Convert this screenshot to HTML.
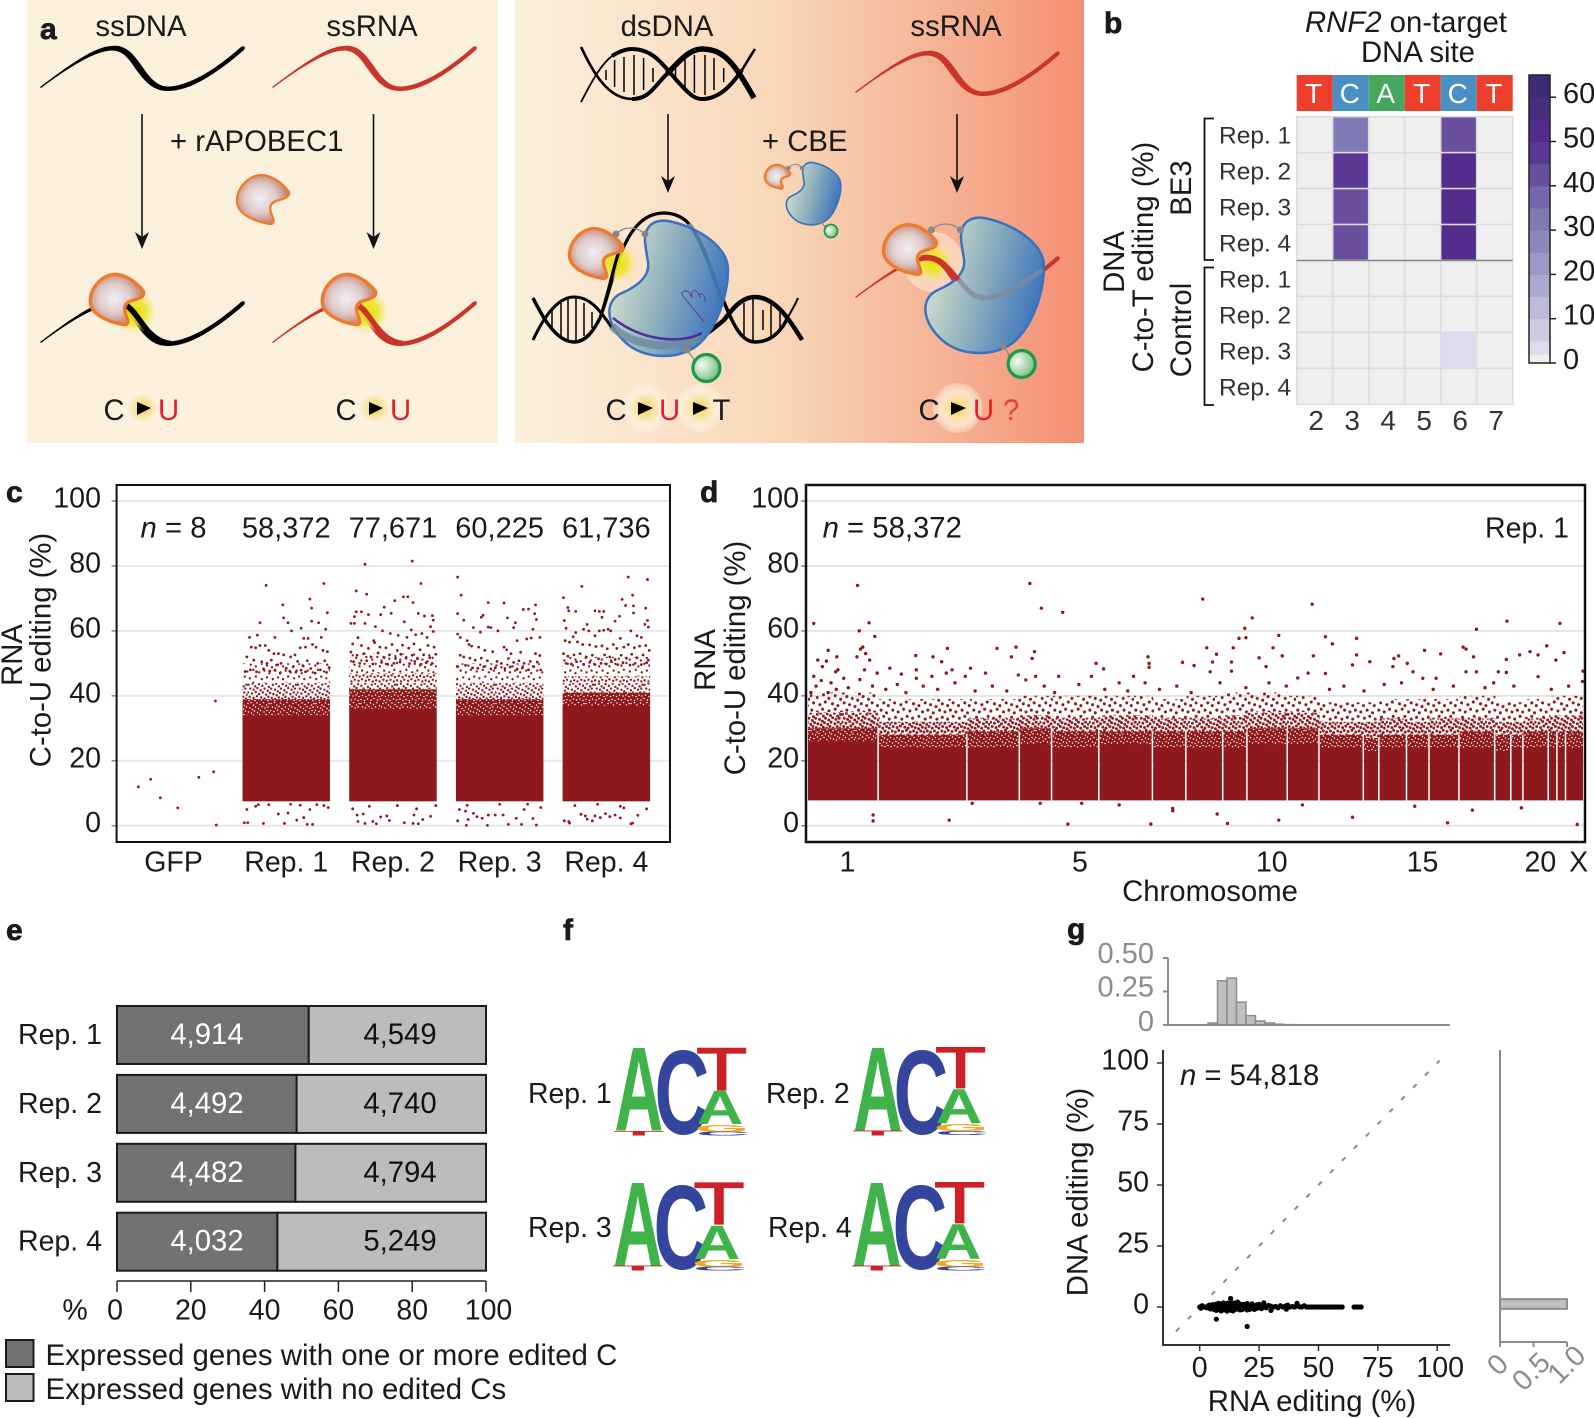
<!DOCTYPE html>
<html lang="en">
<head>
<meta charset="utf-8">
<title>Base editor off-target figure</title>
<style>
html,body{margin:0;padding:0;background:#fff;}
svg{display:block;}
text{font-family:"Liberation Sans",sans-serif;fill:#1a1a1a;}
.f28{font-size:29.3px;}
.f27{font-size:29.3px;}
.f24{font-size:24px;}
.lab{font-size:30px;font-weight:bold;stroke:#1f1f1f;stroke-width:.7px;}
.red{fill:#e2202c;}
.logo{font-size:100px;font-weight:bold;text-anchor:middle;}
.logoT{font-size:100px;font-weight:normal;text-anchor:middle;stroke:#cd2027;stroke-width:2px;}
.mid{text-anchor:middle;}
.end{text-anchor:end;}
</style>
</head>
<body>
<svg id="figure" xmlns="http://www.w3.org/2000/svg" width="1594" height="1418" viewBox="0 0 1594 1418">
<defs>
  <linearGradient id="bg-grad" x1="0" x2="1" y1="0" y2="0">
    <stop offset="0" stop-color="#fbf0dc"/><stop offset=".45" stop-color="#f9d8ba"/><stop offset=".8" stop-color="#f5ac8e"/><stop offset="1" stop-color="#f58e72"/>
  </linearGradient>
  <radialGradient id="enz-grad" cx=".45" cy=".48" r=".6">
    <stop offset="0" stop-color="#f0f0f4"/><stop offset=".5" stop-color="#dfcbc8"/><stop offset="1" stop-color="#ba6a58"/>
  </radialGradient>
  <linearGradient id="blue-grad" x1="0" x2="1" y1=".2" y2=".5">
    <stop offset="0" stop-color="#e0e8d2"/><stop offset=".5" stop-color="#8fb0bd"/><stop offset="1" stop-color="#3c74bd"/>
  </linearGradient>
  <radialGradient id="green-grad" cx=".35" cy=".4" r=".75">
    <stop offset="0" stop-color="#f4faf2"/><stop offset="1" stop-color="#63b86f"/>
  </radialGradient>
  <radialGradient id="yellow-glow">
    <stop offset="0" stop-color="#e8e000"/><stop offset=".55" stop-color="#eee430" stop-opacity=".85"/><stop offset="1" stop-color="#f5ea80" stop-opacity="0"/>
  </radialGradient>
  <radialGradient id="pale-glow">
    <stop offset="0" stop-color="#f5cf55"/><stop offset=".38" stop-color="#f8e2a0"/><stop offset=".7" stop-color="#fdf3df" stop-opacity=".75"/><stop offset="1" stop-color="#fdf3df" stop-opacity=".3"/>
  </radialGradient>
  <path id="wave" d="M40 87C68 66 95 46 112 46C128 44 136 58 146 72C155 84 162 87 170 86.500C190 85 215 70 241 47C244 45 246 47 244 50C216 74 190 91 168 91C153 91 145 82 135 68C127 56 122 51 112 50.500C94 51 68 68 41 88Z"/>
  <path id="enzyme" d="M27 -6C20 -16 8 -23 -1 -23C-15 -22 -25 -9 -25 3C-25 15 -10 23 8 26C14 26 11 20 9 15C7 8 9 5 14 3C20 1 28 0 27 -6Z"/>
  <path id="cas" d="M645 240C645 225 655 219 668 221C695 226 728 245 728 270C728 300 712 340 690 350C670 360 640 358 623 340C605 322 605 300 622 293C640 285 650 275 648 262C646 250 645 245 645 240Z"/>
  <path id="dot-tile" fill="none" stroke-linecap="round" d="M2 3h0M9 1h0M14 6h0M21 2h0M27 5h0M34 1h0M39 7h0M46 3h0M52 1h0M57 6h0M64 2h0M70 5h0M77 1h0M83 6h0M88 3h0M5 10h0M11 12h0M18 9h0M24 13h0M31 10h0M37 14h0M43 10h0M50 12h0M55 15h0M61 10h0M67 13h0M74 9h0M80 12h0M86 10h0M1 17h0M8 19h0M15 16h0M21 20h0M28 17h0M34 21h0M41 18h0M47 20h0M53 22h0M59 18h0M65 21h0M71 17h0M78 20h0M84 17h0M89 21h0M4 25h0M11 27h0M17 24h0M25 26h0M31 28h0M38 25h0M44 27h0M50 29h0M57 26h0M63 28h0M69 25h0M75 28h0M82 25h0M87 28h0M2 33h0M8 35h0M14 32h0M21 34h0M28 32h0M35 35h0M41 33h0M47 36h0M54 33h0M60 35h0M66 33h0M72 35h0M79 33h0M85 36h0M5 41h0M12 43h0M18 40h0M24 42h0M31 40h0M38 43h0M44 41h0M51 43h0M57 41h0M63 43h0M69 40h0M76 42h0M82 40h0M88 43h0M2 49h0M9 51h0M15 48h0M22 50h0M28 47h0M35 50h0M41 48h0M48 51h0M54 49h0M60 51h0M67 48h0M73 50h0M80 48h0M86 51h0"/>
  <pattern id="dense-c" patternUnits="userSpaceOnUse" width="90" height="54" patternTransform="scale(.55)">
    <use href="#dot-tile" stroke="#8e181b" stroke-width="4.400"/>
  </pattern>
  <pattern id="sparse-c" patternUnits="userSpaceOnUse" width="90" height="54" patternTransform="scale(.85)">
    <use href="#dot-tile" stroke="#8e181b" stroke-width="2.800"/>
  </pattern>
  <pattern id="specks" patternUnits="userSpaceOnUse" width="90" height="54" patternTransform="scale(.5)">
    <use href="#dot-tile" stroke="#fff" stroke-width="3"/>
  </pattern>
  <pattern id="dense-d" patternUnits="userSpaceOnUse" width="90" height="54" patternTransform="scale(.55)">
    <use href="#dot-tile" stroke="#8e181b" stroke-width="5.400"/>
  </pattern>
  <pattern id="sparse-d" patternUnits="userSpaceOnUse" width="90" height="54" patternTransform="scale(.9)">
    <use href="#dot-tile" stroke="#8e181b" stroke-width="3.400"/>
  </pattern>
</defs>

<!-- Panel a, left -->
<g>
  <rect x="27" y="0" width="471" height="443" fill="#fbf0dc"/>
  <text class="lab" x="40" y="39">a</text>
  <text class="f28 mid" x="141" y="36">ssDNA</text>
  <text class="f28 mid" x="372" y="36">ssRNA</text>
  <use href="#wave" fill="#000"/>
  <use href="#wave" fill="#c9352a" transform="translate(232,0)"/>
  <g><path d="M142 114V240" stroke="#111" stroke-width="1.600" fill="none"/><path d="M135 232L142 249L149 232L142 237Z" fill="#111"/></g>
  <g><path d="M373.500 114V240" stroke="#111" stroke-width="1.600" fill="none"/><path d="M366.500 232L373.500 249L380.500 232L373.500 237Z" fill="#111"/></g>
  <text class="f28" x="170" y="151">+ rAPOBEC1</text>
  <use href="#enzyme" transform="translate(262,198)" fill="url(#enz-grad)" stroke="#f07a28" stroke-width="2.300"/>
  <use href="#wave" fill="#000" transform="translate(0,255)"/>
  <use href="#wave" fill="#c9352a" transform="translate(232,255)"/>
  <circle cx="135" cy="312" r="22" fill="url(#yellow-glow)"/>
  <circle cx="367" cy="312" r="22" fill="url(#yellow-glow)"/>
  <path d="M127 306C135 311 141 324 150 333C157 340 164 343 171 343.500" stroke="#000" stroke-width="5.500" fill="none"/>
  <path d="M359 306C367 311 373 324 382 333C389 340 396 343 403 343.500" stroke="#c9352a" stroke-width="5.500" fill="none"/>
  <use href="#enzyme" transform="translate(116,298) scale(1.030)" fill="url(#enz-grad)" stroke="#f07a28" stroke-width="3.200"/>
  <use href="#enzyme" transform="translate(348,298) scale(1.030)" fill="url(#enz-grad)" stroke="#f07a28" stroke-width="3.200"/>
  <circle cx="143" cy="408" r="22" fill="url(#pale-glow)"/>
  <circle cx="375" cy="408" r="22" fill="url(#pale-glow)"/>
  <text class="f28" x="103.500" y="420">C</text>
  <polygon points="137,402 151,408 137,415" fill="#000"/>
  <text class="f28 red" x="158" y="420">U</text>
  <text class="f28" x="335.500" y="420">C</text>
  <polygon points="369,402 383,408 369,415" fill="#000"/>
  <text class="f28 red" x="390" y="420">U</text>
</g>

<!-- Panel a, right -->
<g>
  <rect x="515" y="0" width="569" height="443" fill="url(#bg-grad)"/>
  <text class="f28 mid" x="667" y="36">dsDNA</text>
  <text class="f28 mid" x="956" y="36">ssRNA</text>
  <g fill="none" stroke="#000">
    <path stroke-width="1.500" d="M606 70V80M614.600 60V87M624 57V92M634 55V95M643.600 58V90M653 68V82M675.500 68V82M685 58V90M694.400 55V93M705 55V95M714 58V90M723.700 68V82"/>
    <path stroke-width="2.600" d="M581 47C590 65 605 99 632 99"/>
    <path stroke-width="4" d="M632 99C650 99 655 85 667 74"/>
    <path stroke-width="5.500" d="M667 74C680 60 690 49 702 49C725 49 735 65 754 98"/>
    <path stroke-width="1.800" d="M581 102C590 85 600 65 612 56"/>
    <path stroke-width="4" d="M612 56C620 51 626 49 632 49C655 49 665 68 680 84C690 95 695 99 702 99C722 99 735 80 742 70"/>
    <path stroke-width="2.600" d="M742 70C747 62 751 55 755 49"/>
  </g>
  <use href="#wave" fill="#c9352a" transform="translate(815,5)"/>
  <g><path d="M668 114V184" stroke="#111" stroke-width="1.600"/><path d="M661 176L668 193L675 176L668 181Z" fill="#111"/></g>
  <g><path d="M957 114V184" stroke="#111" stroke-width="1.600"/><path d="M950 176L957 193L964 176L957 181Z" fill="#111"/></g>
  <text class="f28" x="762" y="151">+ CBE</text>
  <g>
    <use href="#cas" transform="translate(506,61) scale(.46)" fill="url(#blue-grad)" stroke="#3b72be" stroke-width="3.500"/>
    <use href="#enzyme" transform="translate(777,176) scale(.49)" fill="url(#enz-grad)" stroke="#f07a28" stroke-width="4.500"/>
    <path d="M788.400 168C793 163 798 163 802 168M821 222L826 228" stroke="#888" stroke-width="1" fill="none"/>
    <circle cx="788.400" cy="168" r="2.300" fill="#888"/><circle cx="802" cy="168" r="2.300" fill="#888"/><circle cx="821" cy="222" r="2" fill="#888"/><circle cx="826" cy="227" r="2" fill="#888"/>
    <circle cx="831" cy="231" r="6.500" fill="url(#green-grad)" stroke="#1d9a4a" stroke-width="1.800"/>
  </g>
  <g>
    <g fill="none" stroke="#000">
      <path stroke-width="1.500" d="M552 310V330M561 303V336M568 299V340M576 298V342M584 303V336M592 312V328M763 310V330M771 303V336M753 299V340M744 303V336M780 312V328"/>
      <path stroke-width="3" d="M533 340C540 325 555 297 574 297C590 297 600 310 612 328"/>
      <path stroke-width="3.500" d="M533 298C540 312 555 342 574 342C586 342 594 330 600 318"/>
      <path stroke-width="3.200" d="M600 318C615 280 622 213 664 213C675 213 684 218 689 224"/>
      <path stroke-width="3.500" d="M720 293C730 315 738 342 755 342C772 342 782 330 788 317"/>
      <path stroke-width="4.500" d="M700 338C710 332 718 325 724 320C733 308 742 297 755 297C775 297 790 320 802 340"/>
      <path stroke-width="2" d="M788 317C792 310 796 303 798 298"/>
    </g>
    <circle cx="617" cy="263" r="20" fill="url(#yellow-glow)"/>
    <path d="M600 318C608 296 613 268 620 248" stroke="#000" stroke-width="3.200" fill="none"/>
    <use href="#cas" fill="url(#blue-grad)" stroke="#3b72be" stroke-width="2.500"/>
    <path d="M689 224C702 240 712 272 722 300" stroke="#3d6ea3" stroke-width="4" fill="none" opacity=".75"/>
    <path d="M612 326C630 345 670 352 700 338" stroke="#6e8a9c" stroke-width="8" fill="none" opacity=".8"/>
    <path d="M613 318C640 340 680 345 702 333" stroke="#4b2f9c" stroke-width="2.500" fill="none"/>
    <path d="M704 322L682 295C682 288 690 290 692 298C690 288 698 288 700 298C698 290 706 294 705 302" stroke="#5b3fa0" stroke-width="1" fill="none"/>
    <use href="#enzyme" transform="translate(595,252) scale(1.020)" fill="url(#enz-grad)" stroke="#f07a28" stroke-width="3.200"/>
    <path d="M616 234C624 226 636 226 645 234M687 350L696 362" stroke="#888" stroke-width="1.300" fill="none"/>
    <circle cx="616" cy="234" r="3.500" fill="#888"/><circle cx="645" cy="234" r="3.500" fill="#888"/><circle cx="687" cy="350" r="3.500" fill="#888"/><circle cx="696" cy="362" r="3.500" fill="#888"/>
    <circle cx="706.400" cy="368" r="13.500" fill="url(#green-grad)" stroke="#1d9a4a" stroke-width="3.200"/>
  </g>
  <g>
    <circle cx="933" cy="262" r="30" fill="#fbe3cc" opacity=".7"/>
    <circle cx="933" cy="262" r="20" fill="url(#yellow-glow)"/>
    <use href="#wave" fill="#c9352a" transform="translate(815,210)"/>
    <use href="#cas" transform="translate(316,-3)" fill="url(#blue-grad)" stroke="#3b72be" stroke-width="2.500"/>
    <path d="M957 277C968 292 975 298 985 298C1005 297 1025 282 1042 270" stroke="#7f8b9b" stroke-width="5" fill="none" opacity=".75"/>
    <use href="#enzyme" transform="translate(909,248) scale(1.020)" fill="url(#enz-grad)" stroke="#f07a28" stroke-width="3.200"/>
    <path d="M921 258C935 254 947 265 958 280" stroke="#c9352a" stroke-width="5" fill="none"/>
    <path d="M931 230C940 222 952 222 960 230M1003 346L1011 357" stroke="#888" stroke-width="1.300" fill="none"/>
    <circle cx="931.400" cy="230" r="3.500" fill="#888"/><circle cx="960.400" cy="230" r="3.500" fill="#888"/><circle cx="1003" cy="346" r="3.500" fill="#888"/><circle cx="1011" cy="357" r="3.500" fill="#888"/>
    <circle cx="1021.700" cy="364" r="13.500" fill="url(#green-grad)" stroke="#1d9a4a" stroke-width="3.200"/>
  </g>
  <circle cx="645.400" cy="408" r="24" fill="url(#pale-glow)"/>
  <circle cx="700" cy="408" r="24" fill="url(#pale-glow)"/>
  <circle cx="957.700" cy="408" r="25" fill="url(#pale-glow)"/>
  <text class="f28" x="605.500" y="420">C</text>
  <polygon points="638,402 653,408 638,415" fill="#000"/>
  <text class="f28 red" x="659" y="420">U</text>
  <polygon points="693,402 708,408 693,415" fill="#000"/>
  <text class="f28" x="712.500" y="420">T</text>
  <text class="f28" x="918.500" y="420">C</text>
  <polygon points="951,402 966,408 951,415" fill="#000"/>
  <text class="f28 red" x="973" y="420">U</text>
  <text class="f28 red" x="1003" y="420" style="fill:#e8402f">?</text>
</g>

<!-- Panel b static text -->
<g>
  <text class="lab" x="1104" y="33">b</text>
  <text class="f28" x="1305" y="32"><tspan font-style="italic">RNF2</tspan> on-target</text>
  <text class="f28" x="1361" y="62">DNA site</text>
  <text class="f27 mid" transform="translate(1124,262) rotate(-90)">DNA</text>
  <text class="f27 mid" transform="translate(1153,257) rotate(-90)">C-to-T editing (%)</text>
  <text class="f27 mid" transform="translate(1191,188) rotate(-90)">BE3</text>
  <text class="f27 mid" transform="translate(1191,330) rotate(-90)">Control</text>
  <path d="M1214 118.500H1204.500V260H1214" fill="none" stroke="#111" stroke-width="1.800"/>
  <path d="M1214 267.500H1204.500V405H1214" fill="none" stroke="#111" stroke-width="1.800"/>
</g>
<g id="heatmap"></g>
<g id="colorbar"></g>

<!-- Panel c -->
<g id="panel-c">
  <text class="lab" x="6" y="502">c</text>
  <text class="f27 mid" transform="translate(22,655) rotate(-90)">RNA</text>
  <text class="f27 mid" transform="translate(50.500,650) rotate(-90)">C-to-U editing (%)</text>
</g>

<!-- Panel d -->
<g id="panel-d">
  <text class="lab" x="700" y="502">d</text>
  <text class="f27 mid" transform="translate(715,660) rotate(-90)">RNA</text>
  <text class="f27 mid" transform="translate(745,658) rotate(-90)">C-to-U editing (%)</text>
  <text class="f27 mid" x="1210" y="901">Chromosome</text>
</g>

<!-- Panel e -->
<g id="panel-e">
  <text class="lab" x="6" y="940">e</text>
  <rect x="6" y="1340" width="27.500" height="27" fill="#727272" stroke="#1a1a1a" stroke-width="2"/>
  <rect x="6" y="1374" width="27.500" height="27" fill="#bcbcbc" stroke="#1a1a1a" stroke-width="2"/>
  <text x="45.500" y="1365" style="font-size:29.4px">Expressed genes with one or more edited C</text>
  <text x="45.500" y="1399" style="font-size:29.4px">Expressed genes with no edited Cs</text>
</g>

<!-- Panel f -->
<g>
  <text class="lab" x="563" y="940">f</text>
  <text x="528" y="1103" style="font-size:28.4px">Rep. 1</text>
  <text x="766" y="1103" style="font-size:28.4px">Rep. 2</text>
  <text x="528" y="1237" style="font-size:28.4px">Rep. 3</text>
  <text x="768" y="1237" style="font-size:28.4px">Rep. 4</text>
  <g>
    <text class="logo" style="fill:#3fb34a" transform="translate(638.800,1130.700) scale(.68,1.200)">A</text>
    <text class="logo" style="fill:#33459c" transform="translate(682,1134) scale(.76,1.200)">C</text>
    <text class="logoT" style="fill:#cd2027" transform="translate(721.700,1090) scale(.84,.606)">T</text>
    <text class="logo" style="fill:#3fb34a" transform="translate(720,1124) scale(.65,.48)">A</text>
    <text class="logo" style="fill:#f7a823" transform="translate(722,1132) scale(.7,.105)">G</text>
    <text class="logo" style="fill:#33459c" transform="translate(723,1135.700) scale(.75,.05)">C</text>
    <text class="logo" style="fill:#cd2027" transform="translate(638.800,1135.700) scale(.84,.065)">T</text>
  </g>
  <g transform="translate(239,0)">
    <text class="logo" style="fill:#3fb34a" transform="translate(638.800,1130.700) scale(.68,1.200)">A</text>
    <text class="logo" style="fill:#33459c" transform="translate(682,1134) scale(.76,1.200)">C</text>
    <text class="logoT" style="fill:#cd2027" transform="translate(721.700,1088) scale(.84,.58)">T</text>
    <text class="logo" style="fill:#3fb34a" transform="translate(720,1123) scale(.65,.49)">A</text>
    <text class="logo" style="fill:#f7a823" transform="translate(722,1131) scale(.7,.105)">G</text>
    <text class="logo" style="fill:#33459c" transform="translate(723,1135) scale(.75,.05)">C</text>
    <text class="logo" style="fill:#cd2027" transform="translate(638.800,1135.700) scale(.84,.075)">T</text>
  </g>
  <g transform="translate(-1,135)">
    <text class="logo" style="fill:#3fb34a" transform="translate(638.800,1130.700) scale(.68,1.200)">A</text>
    <text class="logo" style="fill:#33459c" transform="translate(682,1134) scale(.76,1.200)">C</text>
    <text class="logoT" style="fill:#cd2027" transform="translate(720,1089) scale(.84,.595)">T</text>
    <text class="logo" style="fill:#3fb34a" transform="translate(718,1124) scale(.65,.48)">A</text>
    <text class="logo" style="fill:#f7a823" transform="translate(720,1132) scale(.7,.1)">G</text>
    <text class="logo" style="fill:#33459c" transform="translate(721,1135.700) scale(.75,.05)">C</text>
    <text class="logo" style="fill:#cd2027" transform="translate(638.800,1135.700) scale(.84,.07)">T</text>
  </g>
  <g transform="translate(238,135)">
    <text class="logo" style="fill:#3fb34a" transform="translate(638.800,1130.700) scale(.68,1.200)">A</text>
    <text class="logo" style="fill:#33459c" transform="translate(682,1134) scale(.76,1.200)">C</text>
    <text class="logoT" style="fill:#cd2027" transform="translate(721.700,1088) scale(.84,.58)">T</text>
    <text class="logo" style="fill:#3fb34a" transform="translate(720,1124) scale(.65,.5)">A</text>
    <text class="logo" style="fill:#f7a823" transform="translate(722,1132) scale(.7,.1)">G</text>
    <text class="logo" style="fill:#33459c" transform="translate(723,1135.700) scale(.75,.05)">C</text>
    <text class="logo" style="fill:#cd2027" transform="translate(638.800,1135.700) scale(.84,.07)">T</text>
  </g>
</g>

<!-- Panel g -->
<g id="panel-g">
  <text class="lab" x="1067" y="939">g</text>
  <text class="f28 mid" x="1312" y="1411">RNA editing (%)</text>
  <text class="f28 mid" transform="translate(1087.500,1192) rotate(-90)">DNA editing (%)</text>
  <text x="1180" y="1085" style="font-size:29.3px"><tspan font-style="italic">n</tspan> = 54,818</text>
</g>

<script>
/* ---------- Panel b data ---------- */
const heatBases = ['T','C','A','T','C','T'];
const heatPositions = ['2','3','4','5','6','7'];
const heatRows = ['Rep. 1','Rep. 2','Rep. 3','Rep. 4','Rep. 1','Rep. 2','Rep. 3','Rep. 4'];
const heatValues = [
  [0,32,0,0,42,0],
  [0,47,0,0,52,0],
  [0,42,0,0,52,0],
  [0,42,0,0,52,0],
  [0,0,0,0,0,0],
  [0,0,0,0,0,0],
  [0,0,0,0,3,0],
  [0,0,0,0,0,0]
];
const colorThresholds = [0,2,5,10,15,20,25,30,35,40,45,50,55,60];
const colorBands = ['#efefef','#dcdced','#cdcce2','#bdbbd9','#aba9d0','#9c98c6','#8a88bc','#7f7ab4','#7565a9','#6b4f9f','#5c3895','#532c8c','#482c7e','#3f2a76'];
const colorbarTicks = [0,10,20,30,40,50,60];

/* ---------- Panel c data ---------- */
const cCategories = ['GFP','Rep. 1','Rep. 2','Rep. 3','Rep. 4'];
const cCounts = ['8','58,372','77,671','60,225','61,736'];
const cTicks = [0,20,40,60,80,100];
const cBandLow = [7.5,7.5,7.5,7.5];
const cSolidTop = [34,36,34,37];
const cDenseTop = [39,42,39,41];
const cMidTop = [44,47,44,46];
const cSparseTop = [50,53,50,52];
const gfpPoints = [[.03,12],[.17,14.3],[.28,8.6],[.48,5.5],[.72,14.9],[.89,16.6],[.91,38.4],[.92,.2]];
const rep1Points = [[.27,74],[.93,74.6],[.46,68],[.77,69.8],[.79,67],[.97,65.6],[.47,64],[.2,62.5],[.52,62.5],[.79,63],[.87,62.5],[.67,60.8],[.56,60],[.95,60.5],[.08,58],[.17,58.7],[.37,58],[.7,57.7],[.75,57.7],[.9,58],[.1,55],[.15,54.8],[.2,55.5],[.26,55.5],[.3,54],[.36,53],[.41,53],[.47,52.6],[.55,52],[.6,52.6],[.66,54.8],[.72,55],[.8,55.8],[.84,55],[.92,54],[.97,53.6],[.05,52],[.13,51],[.22,50.5],[.28,50],[.33,51],[.39,49.5],[.44,50],[.5,48.5],[.58,49],[.63,50.6],[.69,49.3],[.74,50.8],[.78,48.4],[.86,50],[.94,50.8],[.99,48.7],[.03,47.5],[.09,48],[.16,47.4],[.24,48.3],[.31,47.6],[.37,47.9],[.43,47],[.54,47.6],[.61,47.3],[.67,47.9],[.72,47.4],[.83,47],[.89,48],[.96,47.2],[.05,5],[.02,.9],[.06,.9],[.24,.7],[.41,3.6],[.48,.7],[.52,3.9],[.62,1.7],[.7,2.5],[.74,.4],[.8,.4],[.77,5],[.15,6],[.3,6.5],[.55,6.6],[.66,6.3],[.85,6.5],[.93,6.2],[.98,5.6],[.18,6.5]];
const rep2Points = [[.18,80.5],[.72,81.5],[.82,74.6],[.08,72.3],[.2,71.3],[.62,70.5],[.67,70.5],[.52,69.3],[.73,68.7],[.4,67.3],[.48,65.4],[.08,65.9],[.14,65.9],[.22,65],[.36,65],[.79,65.4],[.86,64.6],[.95,64.7],[.96,63.3],[.06,64.4],[.02,62.3],[.06,62.3],[.18,62.3],[.3,61.3],[.63,62.8],[.93,61.3],[.38,60],[.47,59.2],[.71,60.3],[.83,59.2],[.96,59.8],[.1,57.9],[.28,57],[.56,58.6],[.66,58],[.76,58.8],[.89,58],[.04,56],[.14,55.5],[.22,54.6],[.29,56.4],[.35,55],[.42,54.8],[.49,55.8],[.55,54],[.61,55.6],[.68,54.7],[.74,56],[.81,54.2],[.9,55.5],[.97,55],[.02,53.5],[.09,52.5],[.17,53],[.25,52],[.33,53.2],[.4,51.8],[.46,52.6],[.53,51.5],[.59,52.8],[.65,51.6],[.72,52.5],[.78,51.4],[.85,52.6],[.92,51.7],[.99,52.8],[.05,50.5],[.12,50],[.2,50.8],[.27,49.8],[.37,50.3],[.44,49.7],[.51,50],[.58,50.4],[.69,49.9],[.75,50.6],[.82,49.7],[.88,50.2],[.95,50],[.04,5.2],[.09,3.3],[.16,3.6],[.1,1.3],[.18,.7],[.27,1.3],[.31,.6],[.36,2.7],[.43,3],[.46,1.6],[.63,.9],[.73,.7],[.74,3.3],[.84,1.9],[.79,.6],[.93,2.9],[.77,5.2],[.23,6],[.55,6.2],[.99,6.2]];
const rep3Points = [[.02,76.6],[.06,71],[.37,68.7],[.55,68.6],[.91,68],[.77,66.6],[.83,66.7],[.9,65.3],[.02,65.3],[.31,64.8],[.29,64.2],[.59,64],[.09,63.3],[.92,63.5],[.68,62.5],[.66,61],[.88,60.5],[.2,61],[.37,61.2],[.4,61],[.48,60],[.28,59.6],[.02,59],[.05,58],[.96,58],[.13,57],[.7,57],[.81,57.5],[.86,57.8],[.15,55.8],[.18,55.3],[.26,55],[.33,54],[.42,53.6],[.55,55],[.58,54.2],[.63,53],[.74,53.4],[.91,53],[.96,52.4],[.05,52.5],[.09,52],[.16,51.6],[.22,51],[.29,51.6],[.36,50.8],[.47,50.6],[.52,50],[.6,51.5],[.66,50.3],[.72,50.8],[.78,50],[.85,50.6],[.93,50.4],[.02,49],[.11,49.4],[.19,48.6],[.25,48.5],[.32,49],[.4,48.3],[.45,48.6],[.56,48.4],[.62,48.9],[.7,48.2],[.76,48.6],[.83,48],[.89,49],[.97,48],[.02,1.5],[.04,5],[.11,4.5],[.14,1.9],[.12,.1],[.2,3.8],[.24,2.8],[.3,2.3],[.36,.1],[.37,3.3],[.45,3.3],[.54,3.3],[.6,.4],[.69,2.3],[.75,.4],[.78,5],[.88,2.2],[.92,.2],[.97,5.6],[.13,6.3],[.5,6.6],[.82,6.6]];
const rep4Points = [[.75,76.6],[.22,73.7],[.97,75.8],[.01,70.2],[.8,71],[.68,69.7],[.06,67.2],[.07,66.2],[.15,66],[.37,66.2],[.72,67.8],[.81,67.7],[.42,66],[.47,66],[.95,67],[.65,64.5],[.45,64.2],[.81,65.5],[.02,63.2],[.6,63],[.97,63.2],[.94,62],[.98,61.2],[.28,62],[.24,60.5],[.04,60.8],[.52,60.5],[.3,60],[.42,60],[.47,60.2],[.55,60],[.78,60],[.15,59.5],[.85,58.5],[.12,58.2],[.37,58.5],[.66,57.7],[.9,58],[.03,57],[.08,56.5],[.17,56.6],[.23,55.8],[.31,55.7],[.38,55.2],[.45,55.4],[.51,54.5],[.58,55.8],[.62,54.6],[.7,55],[.75,55.8],[.82,54.8],[.88,55.3],[.95,55.5],[.99,54],[.01,53],[.06,52.2],[.13,52.6],[.2,53],[.27,52],[.34,52.5],[.41,51.4],[.48,52.6],[.54,52],[.6,51.2],[.67,52.5],[.73,51.6],[.79,52.8],[.85,51.7],[.92,52.6],[.98,51],[.04,50],[.1,49.8],[.16,50.5],[.24,49.7],[.31,50.3],[.37,49.6],[.44,50],[.5,49.8],[.56,50.5],[.63,49.6],[.69,50.2],[.77,49.5],[.83,50],[.9,49.6],[.96,50.2],[.02,1.5],[.08,.8],[.07,1.3],[.21,3.5],[.26,3],[.28,2],[.34,1.5],[.37,3],[.43,2.5],[.49,3.7],[.54,2.8],[.6,3.3],[.66,2.4],[.78,.6],[.8,.8],[.86,3.2],[.96,5.2],[.66,6],[.7,5.5],[.14,6.2],[.4,6.6]];

/* ---------- Panel d data ---------- */
const chromNames = ['1','2','3','4','5','6','7','8','9','10','11','12','13','14','15','16','17','18','19','20','21','22','X'];
const chromSites = [123,154,91,56,82,93,58,64,42,70,55,77,27,48,39,52,62,28,21,44,15,15,29];
const chromTickLabels = ['1','5','10','15','20','X'];
const dTicks = [0,20,40,60,80,100];
const chromSolidTop = [26,24,24,25,24,25,24,24,24,25,25,24,23,24,24,24,24,23,24,24,24,24,24];
const chromDenseTop = [30,28,29,30,29,29,29,29,29,30,30,28,27,28,28,28,29,28,28,29,29,29,29];
const chromMidTop = [35,32,33,34,33,34,33,33,34,35,35,32,32,33,32,33,33,32,32,33,34,34,34];
const chromSparseTop = [41,39,39,40,40,40,39,40,41,41,40,38,38,39,39,39,40,38,38,39,40,40,40];
const chromBandLow = 7.8;
const dPoints = [[10,62.3],[86,74],[106,62.5],[89,60],[116,58.3],[85,52],[95,55],[91,54.4],[100,53],[35,54],[17,51],[50,52],[32,50.7],[25,49],[52,48],[48,47.4],[62,45.4],[10,46],[23,44.7],[5,41],[35,41],[49,42],[107,51],[98,48],[90,45],[120,47],[142,48.5],[187,52.4],[162,46.7],[188,48],[188,45.4],[217,52],[232,50.5],[242,54.6],[250,48],[240,47],[215,46],[282,48.5],[273,46],[308,47],[328,54.6],[361,55],[353,52],[393,53.6],[389,51.5],[385,74.6],[405,67],[442,65.7],[365,46.4],[378,44.9],[395,46],[435,46],[500,50],[513,48.3],[492,46],[565,46],[590,52],[592,50],[592,48.8],[650,50.3],[670,49.3],[685,69.8],[692,54.8],[709,52.8],[702,50.4],[698,47.4],[735,50.4],[735,47.6],[738,54.8],[748,57.7],[758,60.8],[760,57.9],[771,64],[783,51.7],[795,49],[817,58.6],[807,54.8],[823,52.3],[875,68.2],[898,58.2],[910,56],[877,52.3],[952,57.7],[952,52.6],[945,49.5],[975,50.5],[898,46.9],[868,47],[1017,51.5],[1025,52.3],[1015,49],[1040,50],[1070,54],[1098,52.9],[1050,47.4],[1067,45.4],[1090,45.4],[1137,55],[1142,54.4],[1160,60.5],[1155,52],[1142,47.4],[1160,47.4],[1213,63],[1212,51.2],[1198,47.4],[1212,47.2],[1235,52.6],[1253,53.6],[1267,52.6],[1282,55.4],[1305,62.3],[1298,51],[1312,53.3],[1267,45.9],[1345,47.6],[1344,44.4],[14,43],[40,44],[70,42.5],[112,43],[135,42],[155,43.5],[170,41],[200,43],[225,42],[255,44],[290,41.5],[320,43],[345,41.5],[410,43],[428,41],[470,43.5],[515,42],[540,44],[555,41.5],[585,44],[610,42],[640,43],[665,41],[715,44],[760,42.5],[800,44],[830,43],[850,45.5],[905,42],[930,43],[965,41.5],[1000,43.5],[1030,44],[1085,42],[1120,43],[1175,42.5],[1190,44],[1225,43],[1290,42],[1320,43],[113,3.3],[113,1.5],[245,1.7],[451,.5],[595,.5],[633,5.3],[633,4.6],[710,3.6],[728,.7],[817,1.7],[945,2.6],[1110,.9],[1153,4.8],[1335,.4],[540,6.4],[858,6.4],[1238,5.5],[1053,6],[403,6.9],[285,6.9],[475,6.9]];

/* ---------- Panel e data ---------- */
const eCategories = ['Rep. 1','Rep. 2','Rep. 3','Rep. 4'];
const eEdited = [4914,4492,4482,4032];
const eNotEdited = [4549,4740,4794,5249];
const eEditedLabels = ['4,914','4,492','4,482','4,032'];
const eNotEditedLabels = ['4,549','4,740','4,794','5,249'];
const eTicks = [0,20,40,60,80,100];

/* ---------- Panel g data ---------- */
const histBinStarts = [3.5,7.5,11.5,15.5,19.5,23.5,27.5,31.5,35.5,39.5,43.5,47.5,51.5];
const histFractions = [.015,.33,.35,.17,.07,.03,.015,.006,.003,.002,.001,.001,.001];
const histTicks = [0,.25,.5];
const histTickLabels = ['0','0.25','0.50'];
const gTicks = [0,25,50,75,100];
const sideHistLow = -2;
const sideHistHigh = 2;
const sideHistValue = 1;
const sideTicks = [0,.5,1];
const sideTickLabels = ['0','0.5','1.0'];
const scatterPoints = [[0,0],[0.5,-.5],[1,.5],[2,0],[3,-.3],[3.5,.4],[4,.8],[4.5,-.8],[5,0],[5.5,1],[6,-1],[6,.5],[6.5,-.3],[7,1.2],[7,-1.4],[7,-5],[7.5,.2],[8,1.5],[8,-1],[8.5,.4],[9,-1.6],[9,1],[9.5,0],[10,1.7],[10,-1.2],[10.5,.6],[11,-.7],[11,1.3],[11.5,-1.7],[12,.2],[12,1.6],[12.5,-1],[13,3.5],[13,.8],[13,-1.3],[13.5,1.8],[14,-.4],[14,-1.6],[14.5,1],[15,-1],[15,1.6],[15.5,.2],[16,2],[16,-.8],[16.5,.7],[17,-1.2],[17,1.2],[17.5,.1],[18,-1],[18.5,1.1],[19,-.5],[19.5,.8],[20,-8],[20,-1.2],[20,1.4],[20.5,.2],[21,-1],[21.5,.9],[22,-.4],[22,1.3],[23,.3],[23,-1],[24,.9],[24,-.6],[25,.1],[25,1.1],[26,-.7],[27,.4],[27,1.7],[28,-.3],[29,.7],[30,-1.4],[30,.3],[31,0],[32,.2],[33,-.3],[34,.5],[35,0],[36,.3],[36.5,-.9],[37,.8],[38,0],[39,.2],[40,0],[41,1.5],[42,.1],[43,0],[44,.5],[45,0],[46,0],[47,0],[48,0],[49,0],[50,0],[51,0],[52,0],[53,0],[54,0],[55,0],[56,0],[57,0],[58,0],[59,0],[60,0],[65,0],[66,0],[67,0],[68,0]];

/* ---------- helpers ---------- */
const SVG_NS = 'http://www.w3.org/2000/svg';
function el(tag, attrs, parent){
  const node = document.createElementNS(SVG_NS, tag);
  for (const k in attrs) node.setAttribute(k, attrs[k]);
  parent.appendChild(node);
  return node;
}
function label(content, attrs, parent){
  const node = el('text', attrs, parent);
  node.textContent = content;
  return node;
}
const colorFor = v => {
  let c = colorBands[0];
  colorThresholds.forEach((t,i)=>{ if (v >= t) c = colorBands[i]; });
  return c;
};

/* ---------- Panel b ---------- */
const heatG = document.getElementById('heatmap');
const baseFill = {T:'#ee3e2c', C:'#4a90c4', A:'#46a85c'};
const heatX = i => 1296.7 + i*36;
const heatY = i => 116.7 + i*35.95;
const heatCenterX = i => heatX(i) + 18;
heatBases.forEach((b,i)=>{
  const tile = el('rect',{x:heatX(i),y:75,width:36,height:36,fill:baseFill[b]},heatG);
  
  
  const letter = label(b,{x:heatCenterX(i)-1,y:103,'text-anchor':'middle','font-size':28,style:'fill:#fff'},heatG);
  
  
});
heatValues.forEach((row,r)=>{
  row.forEach((v,c)=>{
    const cell = el('rect',{x:heatX(c),y:heatY(r),width:36,height:35.95,fill:colorFor(v),stroke:'#dcdcdc','stroke-width':1.5},heatG);
    
    
  });
  const rowLabel = label(heatRows[r],{x:1219,y:heatY(r)+27,'font-size':24.5,style:'fill:#333'},heatG);
  
  
});
const heatDivider = el('line',{x1:1296.7,x2:1512.7,y1:heatY(4),y2:heatY(4),stroke:'#888','stroke-width':1.5},heatG);


heatPositions.forEach((p,i)=>{
  const t = label(p,{x:heatCenterX(i)+1.5,y:430,'text-anchor':'middle','font-size':28,style:'fill:#333'},heatG);
  
  
});

const barG = document.getElementById('colorbar');
const barY = v => 363 - v*4.43;
colorThresholds.forEach((t,i)=>{
  const top = i < colorThresholds.length-1 ? colorThresholds[i+1] : 65;
  const seg = el('rect',{x:1529,y:barY(top),width:21,height:barY(t)-barY(top)+.5,fill:colorBands[i]},barG);
  
  
});
const barFrame = el('path',{d:`M1550 75H1529V363H1550Z`,fill:'none',stroke:'#222','stroke-width':1.5},barG);


colorbarTicks.forEach(v=>{
  const tick = el('line',{x1:1550,x2:1556,y1:barY(v),y2:barY(v),stroke:'#222','stroke-width':1.5},barG);
  
  
  const t = label(String(v),{x:1563,y:barY(v)+6,'font-size':29},barG);
  
  
});

/* ---------- Panel c ---------- */
const cG = document.getElementById('panel-c');
const cY = v => 825.7 - v*3.247;
const cStripLeft = i => 135.8 + i*106.7;
const cStripW = 87.5;
const cPointSets = [gfpPoints,rep1Points,rep2Points,rep3Points,rep4Points];
const cFrameL = 116.6, cFrameR = 670, cFrameT = 485, cFrameB = 842;
cTicks.forEach(v=>{
  const grid = el('line',{x1:cFrameL,x2:cFrameR,y1:cY(v),y2:cY(v),stroke:'#e8e8e8','stroke-width':2},cG);
  
  
  const tick = el('line',{x1:cFrameL-5,x2:cFrameL,y1:cY(v),y2:cY(v),stroke:'#888','stroke-width':1.5},cG);
  
  
  const t = label(String(v),{x:101,y:cY(v)+6.5,'text-anchor':'end','font-size':28.6},cG);
  
  
});
cBandLow.forEach((low,i)=>{
  const x = cStripLeft(i+1);
  const solid = el('rect',{x:x,y:cY(cDenseTop[i]),width:cStripW,height:cY(low)-cY(cDenseTop[i]),fill:'#8e181b'},cG);
  
  
  const specks = el('rect',{x:x,y:cY(cDenseTop[i]),width:cStripW,height:cY(cSolidTop[i])-cY(cDenseTop[i]),fill:'url(#specks)'},cG);
  
  
  const mid = el('rect',{x:x,y:cY(cMidTop[i]),width:cStripW,height:cY(cDenseTop[i])-cY(cMidTop[i]),fill:'url(#dense-c)'},cG);
  
  
  const sparse = el('rect',{x:x,y:cY(cSparseTop[i]),width:cStripW,height:cY(cMidTop[i])-cY(cSparseTop[i]),fill:'url(#sparse-c)'},cG);
  
  
});
cPointSets.forEach((pts,i)=>{
  pts.forEach(p=>{
    const dot = el('circle',{cx:cStripLeft(i)+p[0]*cStripW,cy:cY(p[1]),r:1.4,fill:'#8e181b'},cG);
    
    
  });
});
const cFrame = el('rect',{x:cFrameL,y:cFrameT,width:cFrameR-cFrameL,height:cFrameB-cFrameT,fill:'none',stroke:'#111','stroke-width':2},cG);


cCategories.forEach((c,i)=>{
  const center = cStripLeft(i)+cStripW/2 - (i===0?6:0);
  const xl = label(c,{x:center,y:871.7,'text-anchor':'middle','font-size':28.5},cG);
  
  
  if (i===0){
    const n = el('text',{x:center,y:537.7,'text-anchor':'middle','font-size':29.3},cG);
    
    
    const ital = el('tspan',{'font-style':'italic'},n);
    ital.textContent = 'n';
    const rest = el('tspan',{},n);
    rest.textContent = ' = ' + cCounts[i];
  } else {
    const n = label(cCounts[i],{x:center,y:537.7,'text-anchor':'middle','font-size':29},cG);
    
    
  }
});

/* ---------- Panel d ---------- */
const dG = document.getElementById('panel-d');
const dY = v => 825.7 - v*3.247;
const dTotal = chromSites.reduce((a,b)=>a+b,0);
const dX = u => 808 + u*(1583-808)/dTotal;
const dFrameL = 806, dFrameR = 1585, dFrameT = 485, dFrameB = 842;
dTicks.forEach(v=>{
  const grid = el('line',{x1:dFrameL,x2:dFrameR,y1:dY(v),y2:dY(v),stroke:'#e4e4e4','stroke-width':2},dG);
  
  
  const tick = el('line',{x1:dFrameL-5,x2:dFrameL,y1:dY(v),y2:dY(v),stroke:'#888','stroke-width':1.5},dG);
  
  
  const t = label(String(v),{x:799,y:dY(v)+6.5,'text-anchor':'end','font-size':28.6},dG);
  
  
});
let cumulative = 0;
chromSites.forEach((sites,i)=>{
  const x0 = dX(cumulative), x1 = dX(cumulative+sites);
  const w = x1-x0-(i===chromSites.length-1?0:1.5);
  const solid = el('rect',{x:x0,y:dY(chromDenseTop[i]),width:w,height:dY(chromBandLow)-dY(chromDenseTop[i]),fill:'#8e181b'},dG);
  
  
  const specks = el('rect',{x:x0,y:dY(chromDenseTop[i]),width:w,height:dY(chromSolidTop[i])-dY(chromDenseTop[i]),fill:'url(#specks)'},dG);
  
  
  const mid = el('rect',{x:x0,y:dY(chromMidTop[i]),width:x1-x0,height:dY(chromDenseTop[i])-dY(chromMidTop[i]),fill:'url(#dense-d)'},dG);
  
  
  const sparse = el('rect',{x:x0,y:dY(chromSparseTop[i]),width:x1-x0,height:dY(chromMidTop[i])-dY(chromSparseTop[i]),fill:'url(#sparse-d)'},dG);
  
  
  if (chromTickLabels.includes(chromNames[i])){
    const t = label(chromNames[i],{x:(x0+x1)/2+4,y:871.7,'text-anchor':'middle','font-size':28.5},dG);
    
    
  }
  cumulative += sites;
});
dPoints.forEach(p=>{
  const dot = el('circle',{cx:dX(p[0]),cy:dY(p[1]),r:1.7,fill:'#8e181b'},dG);
  
  
});
const dFrame = el('rect',{x:dFrameL,y:dFrameT,width:dFrameR-dFrameL,height:dFrameB-dFrameT,fill:'none',stroke:'#111','stroke-width':2.5},dG);


const dN = el('text',{x:822.6,y:537.7,'font-size':29.3},dG);


const dNi = el('tspan',{'font-style':'italic'},dN);
dNi.textContent = 'n';
const dNr = el('tspan',{},dN);
dNr.textContent = ' = 58,372';
const dRep = label('Rep. 1',{x:1569,y:537.7,'text-anchor':'end','font-size':28.5},dG);



/* ---------- Panel e ---------- */
const eG = document.getElementById('panel-e');
const eX = v => 117 + v*3.69;
const eBarY = i => 1006 + i*68.9;
eCategories.forEach((c,i)=>{
  const share = 100*eEdited[i]/(eEdited[i]+eNotEdited[i]);
  const light = el('rect',{x:eX(share),y:eBarY(i),width:eX(100)-eX(share),height:58,fill:'#bcbcbc',stroke:'#1a1a1a','stroke-width':2},eG);
  
  
  const dark = el('rect',{x:eX(0),y:eBarY(i),width:eX(share)-eX(0),height:58,fill:'#727272',stroke:'#1a1a1a','stroke-width':2},eG);
  
  
  const a = label(eEditedLabels[i],{x:207,y:eBarY(i)+38,'text-anchor':'middle','font-size':29.3,style:'fill:#fff'},eG);
  
  
  const b = label(eNotEditedLabels[i],{x:400,y:eBarY(i)+38,'text-anchor':'middle','font-size':29.3,style:'fill:#111'},eG);
  
  
  const cat = label(c,{x:18,y:eBarY(i)+38,'font-size':28.5},eG);
  
  
});
const eAxis = el('line',{x1:eX(0),x2:eX(100),y1:1281,y2:1281,stroke:'#222','stroke-width':1.5},eG);


eTicks.forEach(v=>{
  const tick = el('line',{x1:eX(v),x2:eX(v),y1:1281,y2:1292,stroke:'#222','stroke-width':1.5},eG);
  
  
  const t = label(String(v),{x:eX(v)-(v===0?2:0)+(v===100?2.5:0),y:1319.3,'text-anchor':'middle','font-size':28.5},eG);
  
  
});
const ePct = label('%',{x:75,y:1319.3,'text-anchor':'middle','font-size':28.5},eG);



/* ---------- Panel g ---------- */
const gG = document.getElementById('panel-g');
const gX = v => 1199.7 + v*2.375;
const gY = v => 1307 - v*2.44;
const histY = v => 1025 - v*134;
const GREY = '#8c8c8c';
histFractions.forEach((f,i)=>{
  const bar = el('rect',{x:gX(histBinStarts[i]),y:histY(f),width:4*2.375,height:histY(0)-histY(f),fill:'#bfbfbf',stroke:GREY,'stroke-width':1.5},gG);
  
  
});
const histAxis = el('path',{d:`M1168 957.700V1025H1450`,fill:'none',stroke:GREY,'stroke-width':2},gG);


histTicks.forEach((v,i)=>{
  const tick = el('line',{x1:1163,x2:1168,y1:histY(v),y2:histY(v),stroke:GREY,'stroke-width':2},gG);
  
  
  const t = label(histTickLabels[i],{x:1154,y:histY(v)+(v===.5?5:v===0?6:5),'text-anchor':'end','font-size':29,style:'fill:'+GREY},gG);
  
  
});
const gAxis = el('path',{d:`M1163 1050V1345H1450`,fill:'none',stroke:'#333','stroke-width':2},gG);


gTicks.forEach(v=>{
  const ty = el('line',{x1:1157,x2:1163,y1:gY(v),y2:gY(v),stroke:'#333','stroke-width':1.5},gG);
  
  
  const ly = label(String(v),{x:1149,y:gY(v)+6.5,'text-anchor':'end','font-size':28.6},gG);
  
  
  const tx = el('line',{x1:gX(v),x2:gX(v),y1:1345,y2:1351,stroke:'#333','stroke-width':1.5},gG);
  
  
  const lx = label(String(v),{x:gX(v)+(v===100?3:0),y:1377,'text-anchor':'middle','font-size':28.6},gG);
  
  
});
const diagonal = el('line',{x1:gX(-10),y1:gY(-10),x2:gX(101),y2:gY(101),stroke:GREY,'stroke-width':2,'stroke-dasharray':'5 12'},gG);


scatterPoints.forEach(p=>{
  const dot = el('circle',{cx:gX(p[0]),cy:gY(p[1]),r:2.6,fill:'#000'},gG);
  
  
});
const sideX = v => 1500 + v*67;
const sideBar = el('rect',{x:sideX(0),y:gY(sideHistHigh)-3,width:sideX(sideHistValue)-sideX(0),height:gY(sideHistLow)-gY(sideHistHigh),fill:'#bfbfbf',stroke:GREY,'stroke-width':2},gG);


const sideAxis = el('path',{d:`M1500 1050V1342H1567`,fill:'none',stroke:GREY,'stroke-width':2},gG);


sideTicks.forEach((v,i)=>{
  const tick = el('line',{x1:sideX(v),x2:sideX(v),y1:1342,y2:1347,stroke:GREY,'stroke-width':2},gG);
  
  
  const cx = sideX(v)-2+(i===2?2:0), cy = i===1 ? 1372 : (i===0 ? 1365 : 1365);
  const t = label(sideTickLabels[i],{x:0,y:9,'text-anchor':'middle','font-size':28.6,style:'fill:'+GREY,transform:`translate(${cx},${cy}) rotate(-45)`},gG);
  
  
});
</script>
</svg>
</body>
</html>
